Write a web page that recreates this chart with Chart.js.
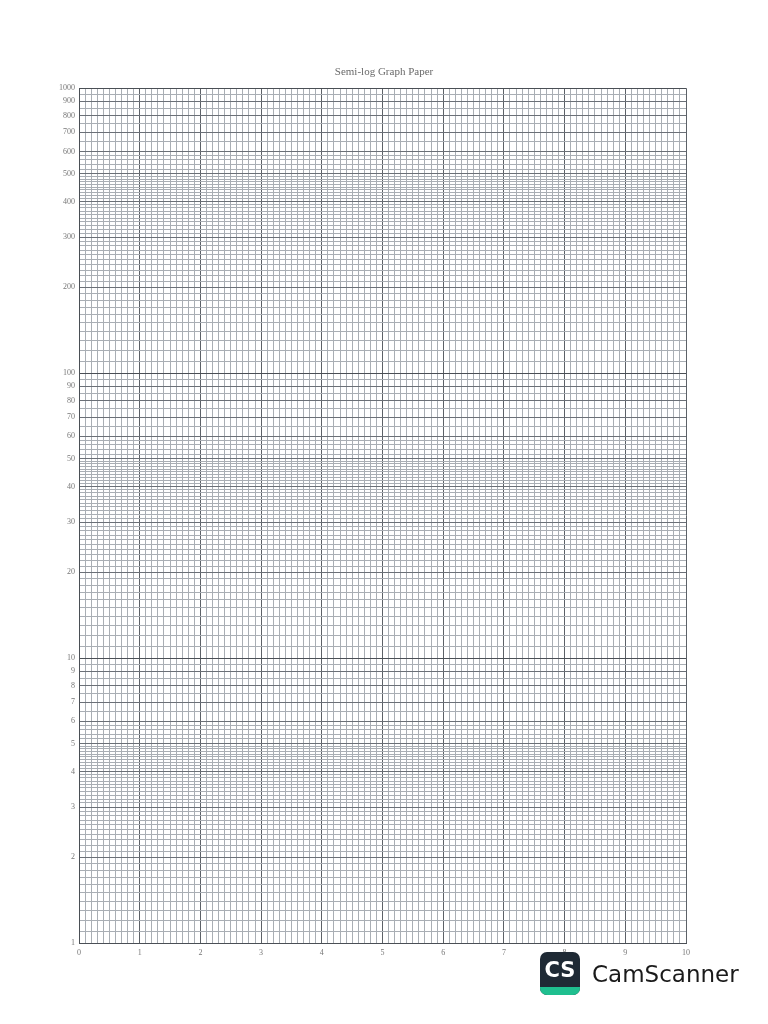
<!DOCTYPE html>
<html>
<head>
<meta charset="utf-8">
<title>Semi-log Graph Paper</title>
<script src="https://cdn.jsdelivr.net/npm/chart.js@4/dist/chart.umd.min.js"></script>
<style>
    body { margin: 0; background: #ffffff; }
    #wrap { position: relative; width: 768px; height: 1024px; }
    #scanner { position: absolute; left: 540px; top: 952px; display: flex; align-items: center; }
    #scanner .logo {
        width: 40px; height: 43px; border-radius: 7px; overflow: hidden;
        background: #1f2a35; position: relative;
        font: bold 21px "DejaVu Sans", sans-serif; color: #fff;
        text-align: center; line-height: 36px;
    }
    #scanner .logo::after {
        content: ''; position: absolute; left: 0; right: 0; bottom: 0; height: 8px; background: #1fbf8f;
    }
    #scanner .name { margin-left: 12px; font: 23px "DejaVu Sans", sans-serif; color: #1a1a1a; }
</style>
</head>
<body>
<div id="wrap">
    <canvas id="paper"></canvas>
    <div id="scanner"><div class="logo">CS</div><div class="name">CamScanner</div></div>
</div>
<script>
// axis labels printed on the paper
const xTickLabels = [0, 1, 2, 3, 4, 5, 6, 7, 8, 9, 10];
const yTickLabels = [1, 2, 3, 4, 5, 6, 7, 8, 9, 10,
                     20, 30, 40, 50, 60, 70, 80, 90, 100,
                     200, 300, 400, 500, 600, 700, 800, 900, 1000];
const decades = [1, 10, 100];
// minor rulings inside each decade: [from, to, step] in mantissa units
const ySubdivisions = [[1, 5, 0.1], [5, 6, 0.2], [6, 10, 0.5]];
const xSubdivision = 0.1;

function round3(v) {
    return Math.round(v * 1000) / 1000;
}

function buildYGrid() {
    const values = [];
    decades.forEach(d => {
        ySubdivisions.forEach(([from, to, step]) => {
            const n = Math.round((to - from) / step);
            for (let i = 0; i < n; i++) {
                values.push(round3((from + i * step) * d));
            }
        });
    });
    values.push(1000);
    return values;
}

function buildXGrid() {
    const values = [];
    const n = Math.round((xTickLabels[xTickLabels.length - 1] - xTickLabels[0]) / xSubdivision);
    for (let i = 0; i <= n; i++) values.push(round3(xTickLabels[0] + i * xSubdivision));
    return values;
}

const yGrid = buildYGrid();
const xGrid = buildXGrid();

function isLabel(list, v) {
    return list.some(l => Math.abs(l - v) < 1e-6);
}

function yLineColor(v) {
    if (isLabel(decades.concat([1000]), v)) return '#4a4f55';
    if (isLabel(yTickLabels, v)) return '#6b7077';
    return '#a9aeb4';
}

function xLineColor(v) {
    if (isLabel(xTickLabels, v)) return '#5c6167';
    return '#a9aeb4';
}

const tickFont = { family: '"Liberation Serif", "DejaVu Serif", serif', size: 8 };

new Chart(document.getElementById('paper'), {
    type: 'scatter',
    data: { datasets: [] },
    options: {
        responsive: true,
        maintainAspectRatio: false,
        animation: false,
        layout: { padding: 0 },
        plugins: {
            legend: { display: false },
            tooltip: { enabled: false },
            title: {
                display: true,
                text: 'Semi-log Graph Paper',
                color: '#6a6a6a',
                font: { family: '"Liberation Serif", "DejaVu Serif", serif', size: 11, weight: 'normal', lineHeight: 1.2 },
                padding: { top: 66, bottom: 9 }
            }
        },
        scales: {
            x: {
                type: 'linear',
                min: 0,
                max: 10,
                afterBuildTicks: scale => { scale.ticks = xGrid.map(v => ({ value: v })); },
                afterFit: scale => { scale.height = 81; },
                ticks: {
                    autoSkip: false,
                    maxRotation: 0,
                    padding: 5,
                    color: '#777',
                    font: tickFont,
                    callback: v => isLabel(xTickLabels, v) ? String(Math.round(v)) : ''
                },
                grid: {
                    drawTicks: false,
                    lineWidth: 1,
                    color: ctx => xLineColor(ctx.tick ? ctx.tick.value : 0)
                },
                border: { color: '#4a4f55' }
            },
            y: {
                type: 'logarithmic',
                min: 1,
                max: 1000,
                afterBuildTicks: scale => { scale.ticks = yGrid.map(v => ({ value: v })); },
                afterFit: scale => { scale.width = 79; },
                ticks: {
                    autoSkip: false,
                    padding: 4,
                    color: '#777',
                    font: tickFont,
                    callback: v => isLabel(yTickLabels, v) ? String(Math.round(v)) : ''
                },
                grid: {
                    drawTicks: false,
                    lineWidth: 1,
                    color: ctx => yLineColor(ctx.tick ? ctx.tick.value : 1)
                },
                border: { color: '#4a4f55' }
            },
            // blank right margin so the title centres on the page
            margin: {
                type: 'linear',
                position: 'right',
                afterFit: scale => { scale.width = 82; },
                ticks: { display: false },
                grid: { display: false },
                border: { display: false }
            }
        }
    }
});
</script>
</body>
</html>
